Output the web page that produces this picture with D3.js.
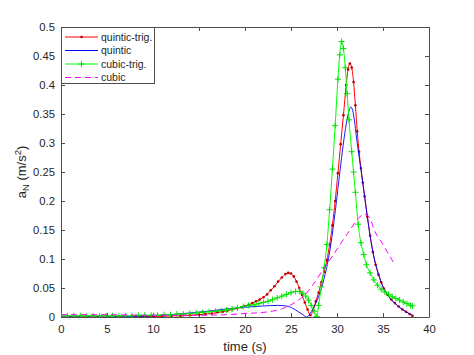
<!DOCTYPE html>
<html><head><meta charset="utf-8">
<script src="https://cdn.jsdelivr.net/npm/d3@7"></script>
<style>
html,body{margin:0;padding:0;background:#fff;}
svg{display:block;font-family:"Liberation Sans",Arial,sans-serif;}
</style></head><body>
<svg id="chart" width="474" height="355"></svg>
<script>
// ---- data ----
const seriesNames = ["quintic-trig.", "quintic", "cubic-trig.", "cubic"];

const quinticTrigT = [0,1,2,3,4,5,6,7,8,9,10,11,12,13,14,15,15.7,16.4,17.0,17.6,18.1,18.6,19.1,19.6,20.0,20.4,20.8,21.2,21.6,22.0,22.4,22.8,23.2,23.6,24.0,24.4,24.7,25.0,25.3,25.6,25.9,26.2,26.5,26.8,27.1,27.4,27.7,28.0,28.3,28.6,28.9,29.2,29.5,29.8,30.1,30.4,30.7,31.0,31.2,31.4,31.6,31.8,32.0,32.2,32.4,32.6,32.8,33.0,33.3,33.6,33.9,34.2,34.5,34.8,35.1,35.5,35.9,36.3,36.7,37.1,37.5,37.9,38.2];
const quinticTrigA = [0,0,0,0,0,0,0,0.001,0.001,0.001,0.001,0.001,0.002,0.002,0.003,0.004,0.005,0.006,0.008,0.009,0.011,0.013,0.015,0.017,0.019,0.021,0.024,0.027,0.030,0.034,0.039,0.046,0.053,0.061,0.068,0.074,0.076,0.075,0.070,0.061,0.050,0.038,0.025,0.013,0.003,0.012,0.027,0.042,0.060,0.078,0.098,0.125,0.158,0.200,0.248,0.298,0.348,0.400,0.427,0.437,0.430,0.405,0.365,0.320,0.285,0.257,0.232,0.208,0.173,0.140,0.112,0.090,0.073,0.060,0.049,0.038,0.030,0.024,0.018,0.013,0.009,0.005,0.002];

const quinticT = [0,5,8,10,12,14,16,18,20,22,23.5,24.5,25.2,25.8,26.3,26.7,27.2,27.7,28.2,28.7,29.2,29.7,30.2,30.5,30.7,31.0,31.3,31.5,31.7,31.9,32.1,32.3,32.5,32.8,33.0,33.3,33.6,34.0,34.5,35.0,35.5,36.0,36.7,37.4,38.2];
const quinticA = [0,0,0.001,0.002,0.004,0.007,0.010,0.014,0.017,0.019,0.020,0.019,0.015,0.009,0.004,0.000,0.009,0.024,0.044,0.073,0.112,0.168,0.235,0.275,0.300,0.332,0.355,0.362,0.356,0.338,0.312,0.288,0.265,0.232,0.208,0.173,0.140,0.105,0.075,0.052,0.038,0.028,0.018,0.010,0.003];

const cubicTrigT = [0,0.7,1.4,2.1,2.8,3.5,4.2,4.9,5.6,6.3,7.0,7.7,8.4,9.1,9.8,10.5,11.2,11.9,12.6,13.3,14.0,14.7,15.4,16.1,16.8,17.4,18.0,18.6,19.2,19.8,20.4,21.0,21.5,22.0,22.5,23.0,23.5,24.0,24.5,25.0,25.5,25.9,26.3,26.6,26.9,27.2,27.5,27.8,28.0,28.3,28.6,28.9,29.2,29.5,29.8,30.1,30.3,30.5,30.7,30.9,31.1,31.3,31.6,31.8,32.0,32.3,32.6,32.9,33.2,33.6,34.0,34.4,34.8,35.2,35.6,36.0,36.4,36.8,37.2,37.6,38.0,38.2];
const cubicTrigA = [0.002,0.002,0.002,0.002,0.002,0.002,0.002,0.002,0.002,0.002,0.002,0.002,0.003,0.003,0.003,0.003,0.004,0.004,0.005,0.005,0.006,0.007,0.008,0.009,0.010,0.011,0.012,0.014,0.016,0.018,0.020,0.021,0.023,0.025,0.027,0.030,0.033,0.036,0.039,0.042,0.044,0.044,0.041,0.036,0.029,0.020,0.010,0.001,0.020,0.052,0.085,0.125,0.185,0.255,0.330,0.410,0.452,0.475,0.463,0.430,0.385,0.340,0.285,0.250,0.215,0.160,0.128,0.108,0.090,0.076,0.064,0.055,0.048,0.043,0.039,0.035,0.032,0.029,0.026,0.023,0.020,0.019];

const cubicT = [0,5,10,15,18,20,22,23,24,25,25.8,26.5,27.4,28.5,29.5,30.5,31.5,32.3,33.0,33.6,34.0,35.0,36.0,36.35];
const cubicA = [0.004,0.004,0.003,0.003,0.004,0.006,0.008,0.010,0.014,0.021,0.029,0.038,0.056,0.082,0.105,0.129,0.152,0.170,0.177,0.170,0.152,0.125,0.098,0.089];

const xTicks = [0,5,10,15,20,25,30,35,40];
const xTickLabels = ["0","5","10","15","20","25","30","35","40"];
const yTicks = [0,0.05,0.1,0.15,0.2,0.25,0.3,0.35,0.4,0.45,0.5];
const yTickLabels = ["0","0.05","0.1","0.15","0.2","0.25","0.3","0.35","0.4","0.45","0.5"];

// ---- chart ----
const svg = d3.select("#chart");
const L = 61, R = 429, T = 27, B = 317;
const x = d3.scaleLinear().domain([0,40]).range([L,R]);
const y = d3.scaleLinear().domain([0,0.5]).range([B,T]);
const axisCol = "#4d4d4d", textCol = "#262626";

const clipId = "plotclip";
svg.append("clipPath").attr("id", clipId).append("rect")
  .attr("x", L).attr("y", T).attr("width", R-L).attr("height", B-T);

function styleAxis(g){
  g.select(".domain").attr("stroke", axisCol).attr("stroke-width",1);
  g.selectAll(".tick line").attr("stroke", axisCol);
  g.selectAll(".tick text").attr("fill", textCol).style("font-size","11.3px");
}

svg.append("g").attr("transform",`translate(0,${B})`)
  .call(d3.axisBottom(x).tickValues(xTicks).tickFormat((d,i)=>xTickLabels[i]).tickSizeInner(-4).tickSizeOuter(0).tickPadding(8))
  .call(styleAxis);
svg.append("g").attr("transform",`translate(0,${T})`)
  .call(d3.axisTop(x).tickValues(xTicks).tickFormat("").tickSizeInner(-4).tickSizeOuter(0))
  .call(styleAxis);
svg.append("g").attr("transform",`translate(${L},0)`)
  .call(d3.axisLeft(y).tickValues(yTicks).tickFormat((d,i)=>yTickLabels[i]).tickSizeInner(-4).tickSizeOuter(0).tickPadding(6))
  .call(styleAxis);
svg.append("g").attr("transform",`translate(${R},0)`)
  .call(d3.axisRight(y).tickValues(yTicks).tickFormat("").tickSizeInner(-4).tickSizeOuter(0))
  .call(styleAxis);

const plot = svg.append("g").attr("clip-path",`url(#${clipId})`);
function mk(tArr, aArr){ return tArr.map((t,i)=>({t, a:aArr[i]})); }
const lineGen = d3.line().x(d=>x(d.t)).y(d=>y(d.a)).curve(d3.curveMonotoneX);

const cubicData = mk(cubicT, cubicA);
const cubicTrigData = mk(cubicTrigT, cubicTrigA);
const quinticData = mk(quinticT, quinticA);
const quinticTrigData = mk(quinticTrigT, quinticTrigA);

const plusPath = s => `M${-s},0H${s}M0,${-s}V${s}`;

// quintic-trig (red with dots)
plot.append("path").datum(quinticTrigData).attr("d", lineGen)
  .attr("fill","none").attr("stroke","#ff0000").attr("stroke-width",1);
plot.selectAll(".rdot").data(quinticTrigData).enter().append("circle")
  .attr("cx",d=>x(d.t)).attr("cy",d=>y(d.a)).attr("r",1.3).attr("fill","#c00000");

// quintic (blue)
plot.append("path").datum(quinticData).attr("d", lineGen)
  .attr("fill","none").attr("stroke","#0000ff").attr("stroke-width",0.9);

// cubic-trig (green with +)
plot.append("path").datum(cubicTrigData).attr("d", lineGen)
  .attr("fill","none").attr("stroke","#00ff00").attr("stroke-width",1);
plot.selectAll(".gplus").data(cubicTrigData).enter().append("path")
  .attr("transform",d=>`translate(${x(d.t)},${y(d.a)})`)
  .attr("d", plusPath(3)).attr("stroke","#00e000").attr("stroke-width",1).attr("fill","none");

// cubic (magenta dashed)
plot.append("path").datum(cubicData).attr("d", lineGen)
  .attr("fill","none").attr("stroke","#ff00ff").attr("stroke-width",1)
  .attr("stroke-dasharray","6,4");

// ---- legend ----
const lg = svg.append("g");
lg.append("rect").attr("x",L+0.5).attr("y",T+0.5).attr("width",93).attr("height",56)
  .attr("fill","#fff").attr("stroke",axisCol).attr("stroke-width",1);
const legStyles = [
  {c:"#ff0000", dash:null, m:"dot"},
  {c:"#0000ff", dash:null, m:null},
  {c:"#00ff00", dash:null, m:"plus"},
  {c:"#ff00ff", dash:"6,4", m:null}
];
seriesNames.forEach((name,i)=>{
  const yy = 37 + i*13.5;
  const s = legStyles[i];
  const ln = lg.append("line").attr("x1",65).attr("x2",98).attr("y1",yy).attr("y2",yy)
    .attr("stroke",s.c).attr("stroke-width",1);
  if(s.dash) ln.attr("stroke-dasharray",s.dash);
  if(s.m==="dot") lg.append("circle").attr("cx",81.5).attr("cy",yy).attr("r",1.3).attr("fill","#c00000");
  if(s.m==="plus") lg.append("path").attr("transform",`translate(81.5,${yy})`).attr("d",plusPath(3))
    .attr("stroke","#00e000").attr("fill","none");
  lg.append("text").attr("x",101).attr("y",yy+3.5).attr("fill",textCol)
    .style("font-size","10.5px").text(name);
});

// ---- axis labels ----
svg.append("text").attr("x",(L+R)/2).attr("y",351).attr("text-anchor","middle")
  .attr("fill",textCol).style("font-size","13px").text("time (s)");
const yl = svg.append("text").attr("transform",`translate(26,${(T+B)/2}) rotate(-90)`)
  .attr("text-anchor","middle").attr("fill",textCol).style("font-size","13px");
yl.append("tspan").text("a");
yl.append("tspan").attr("baseline-shift","-25%").style("font-size","9.5px").text("N");
yl.append("tspan").text(" (m/s");
yl.append("tspan").attr("baseline-shift","super").style("font-size","9.5px").text("2");
yl.append("tspan").text(")");
</script>
</body></html>
